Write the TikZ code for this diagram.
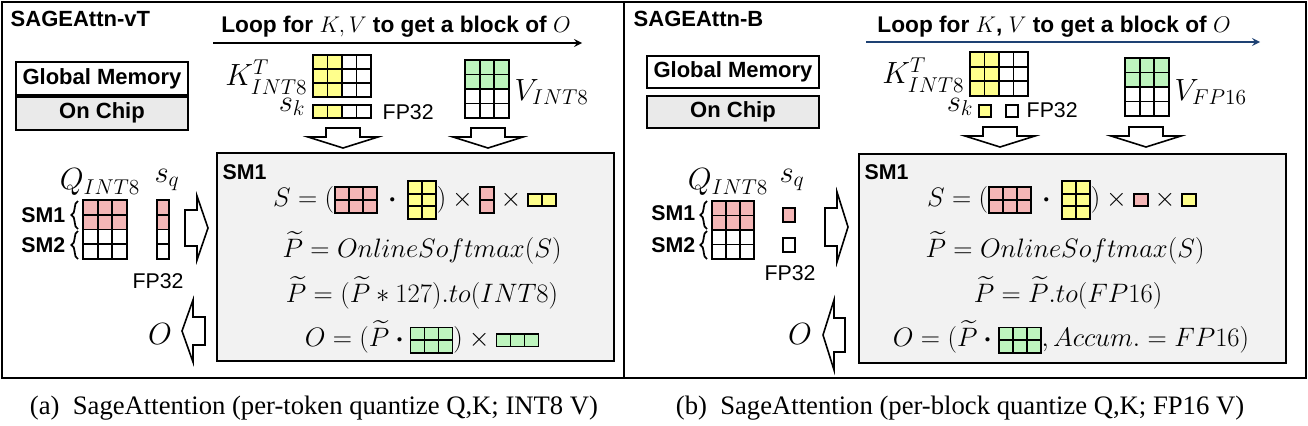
\RequirePackage{fix-cm}
\documentclass[tikz,border=0pt]{standalone}
\usepackage{amsmath}
\usepackage{fontspec}
\setmainfont{Liberation Sans}
\newfontfamily\capfont{Liberation Serif}
\usetikzlibrary{decorations.pathreplacing}
\definecolor{pk}{RGB}{244,182,182}
\definecolor{yl}{RGB}{255,255,140}
\definecolor{gr}{RGB}{190,245,190}
\definecolor{bx}{RGB}{242,242,242}
\definecolor{oc}{RGB}{234,234,234}
\definecolor{nv}{RGB}{30,65,115}
% inline matrix: cols rows color
\newcommand\imat[3]{\tikz[baseline={([yshift=-0.25em]current bounding box.center)}]{%
 \fill[#3] (0pt,0pt) rectangle ({#1*10.5pt},{#2*9.5pt});
 \foreach \i in {0,...,#1}{\draw[line width=1.3pt,line cap=rect] ({\i*10.5pt},0pt) -- ({\i*10.5pt},{#2*9.5pt});}
 \foreach \j in {0,...,#2}{\draw[line width=1.3pt,line cap=rect] (0pt,{\j*9.5pt}) -- ({#1*10.5pt},{\j*9.5pt});}}}
% grid in px: x y cols rows w h
\newcommand\pgrid[6]{%
 \foreach \i in {0,...,#3}{\draw[gl] ({#1+\i*#5},#2) -- ({#1+\i*#5},{#2+#4*#6});}
 \foreach \j in {0,...,#4}{\draw[gl] (#1,{#2+\j*#6}) -- ({#1+#3*#5},{#2+\j*#6});}}
\tikzset{
 gl/.style={line width=1.4pt,line cap=rect},
 frame/.style={line width=1.5pt},
 title/.style={font=\fontsize{16.5}{18}\selectfont\bfseries,anchor=west},
 loop/.style={font=\fontsize{17}{19}\selectfont\bfseries},
 lbl/.style={font=\fontsize{16}{18}\selectfont\bfseries},
 fp/.style={font=\fontsize{16}{18}\selectfont},
 ml/.style={font=\fontsize{23}{26}\selectfont},
 eq/.style={font=\fontsize{20}{24}\selectfont},
 mem/.style={draw,line width=1.5pt,minimum width=129pt,minimum height=24.5pt,font=\fontsize{16.5}{18}\selectfont\bfseries,inner sep=0pt},
 barrow/.style={draw,line width=1.2pt,fill=white},
 captxt/.style={font=\capfont\fontsize{20}{24}\selectfont},
 brc/.style={decorate,decoration={brace,amplitude=5pt},line width=1.3pt},
}
\newcommand\dnarrow[3]{% name cx ytop
 \draw[barrow] ({#2-17},#3) -- ({#2+17},#3) -- ({#2+17},{#3+9}) -- ({#2+35},{#3+9}) -- (#2,{#3+20}) -- ({#2-35},{#3+9}) -- ({#2-17},{#3+9}) -- cycle;
 \coordinate (#1) at (#2,{#3+20});}
\begin{document}
\begin{tikzpicture}[x=0.75pt,y=-0.75pt]
\useasboundingbox (0,0) rectangle (1308,425);
\draw[frame] (2,2) rectangle (1306,378);
\draw[frame] (624,2) -- (624,378);

%%%%% LEFT PANEL
\node[title] (ta) at (6,19) {SAGEAttn-vT};
\node[loop] (la) at (396,27) {Loop for $K,V$ to get a block of $O$};
\coordinate (la1) at (213,43); \coordinate (la2) at (582,43);
\draw[line width=1.6pt,-stealth] (la1) -- (la2);
\node[mem] (gma) at (102,78.5) {Global Memory};
\node[mem,fill=oc,anchor=north] (oca) at (gma.south) {On Chip};
% K^T
\fill[yl] (313,55) rectangle (342,97);
\pgrid{313}{55}{4}{3}{14.5}{14}
\node[ml,anchor=east] (kta) at (312,77) {$K^T_{INT8}$};
\fill[yl] (313,105) rectangle (342,118);
\pgrid{313}{105}{4}{1}{14.5}{13}
\node[ml,anchor=east] (ska) at (310,107) {$s_k$};
\node[fp,anchor=west] (fpka) at (378,112) {FP32};
% V
\fill[gr] (465,60) rectangle (509,89);
\pgrid{465}{60}{3}{4}{14.67}{14.5}
\node[ml,anchor=west] (va) at (510,92) {$V_{INT8}$};
\dnarrow{da1}{343}{128}
\dnarrow{da2}{488}{128}
% SM1 box
\node[draw,line width=1.5pt,fill=bx,minimum width=297.75pt,minimum height=156pt,anchor=north west,inner sep=0pt] (sma) at (216,152) {};
\node[lbl,anchor=west] (sma1) at (218,172) {SM1};
\node[eq] (ea1) at (415,200) {$S=(\imat{3}{2}{pk}\,\boldsymbol{\cdot}\,\imat{2}{3}{yl})\times\imat{1}{2}{pk}\times\imat{2}{1}{yl}$};
\node[eq] (ea2) at (422,248) {$\widetilde{P}=OnlineSoftmax(S)$};
\node[eq] (ea3) at (422,293) {$\widetilde{P}=(\widetilde{P}*127).to(INT8)$};
\node[eq] (ea4) at (422,337) {$O=(\widetilde{P}\boldsymbol{\cdot}\imat{3}{2}{gr})\times\imat{3}{1}{gr}$};
% Q
\fill[pk] (83,200) rectangle (127,229.5);
\pgrid{83}{200}{3}{4}{14.67}{14.75}
\node[ml] (qa) at (100,182) {$Q_{INT8}$};
\fill[pk] (157,200) rectangle (169,229.5);
\pgrid{157}{200}{1}{4}{12}{14.75}
\node[ml] (sqa) at (167,180) {$s_q$};
\node[fp] (fpqa) at (158,281) {FP32};
\draw[brc] (78,229) -- (78,201);
\draw[brc] (78,259) -- (78,231);
\node[lbl,anchor=east] (s1a) at (70,215) {SM1};
\node[lbl,anchor=east] (s2a) at (70,245) {SM2};
\draw[barrow] (185,210) -- (197,210) -- (197,196) -- (208,228) -- (197,260) -- (197,246) -- (185,246) -- cycle;
\draw[barrow] (205,317) -- (193,317) -- (193,300) -- (182,331) -- (193,362) -- (193,345) -- (205,345) -- cycle;
\node[ml] (oa) at (160,334) {$O$};
\node[captxt] (capa) at (314,408) {(a)\ \ SageAttention (per-token quantize Q,K; INT8 V)};

%%%%% RIGHT PANEL
\node[title] (tb) at (629,19) {SAGEAttn-B};
\node[loop] (lb) at (1054,27) {Loop for $K$, $V$ to get a block of $O$};
\coordinate (lb1) at (866,42); \coordinate (lb2) at (1260,42);
\draw[line width=1.6pt,-stealth,nv] (lb1) -- (lb2);
\node[mem] (gmb) at (733,72) {Global Memory};
\node[mem,fill=oc] (ocb) at (733,112) {On Chip};
% K^T
\fill[yl] (970,52) rectangle (999,96);
\pgrid{970}{52}{4}{3}{14.5}{14.67}
\node[ml,anchor=east] (ktb) at (969,75) {$K^T_{INT8}$};
\fill[yl] (979,105) rectangle (991,117);
\draw[gl] (979,105) rectangle (991,117);
\draw[gl] (1006,105) rectangle (1018,117);
\node[ml,anchor=east] (skb) at (978,107) {$s_k$};
\node[fp,anchor=west] (fpkb) at (1022,110) {FP32};
% V
\fill[gr] (1125,58) rectangle (1169,87);
\pgrid{1125}{58}{3}{4}{14.67}{14.5}
\node[ml,anchor=west] (vb) at (1170,92) {$V_{FP16}$};
\dnarrow{db1}{1000}{127}
\dnarrow{db2}{1146}{127}
\node[draw,line width=1.5pt,fill=bx,minimum width=320pt,minimum height=156.75pt,anchor=north west,inner sep=0pt] (smb) at (858,153) {};
\node[lbl,anchor=west] (smb1) at (860,172) {SM1};
\node[eq] (eb1) at (1062,200) {$S=(\imat{3}{2}{pk}\,\boldsymbol{\cdot}\,\imat{2}{3}{yl})\times\imat{1}{1}{pk}\times\imat{1}{1}{yl}$};
\node[eq] (eb2) at (1065,248) {$\widetilde{P}=OnlineSoftmax(S)$};
\node[eq] (eb3) at (1068,293) {$\widetilde{P}=\widetilde{P}.to(FP16)$};
\node[eq] (eb4) at (1071,337) {$O=(\widetilde{P}\boldsymbol{\cdot}\imat{3}{2}{gr},Accum.=FP16)$};
% Q
\fill[pk] (712,201) rectangle (754,229.5);
\pgrid{712}{201}{3}{4}{14}{14.5}
\node[ml] (qb) at (728,182) {$Q_{INT8}$};
\fill[pk] (783,208) rectangle (795,222);
\draw[gl] (783,208) rectangle (795,222);
\draw[gl] (783,238) rectangle (795,252);
\node[ml] (sqb) at (792,180) {$s_q$};
\node[fp] (fpqb) at (790,273) {FP32};
\draw[brc] (707,229) -- (707,201);
\draw[brc] (707,259) -- (707,231);
\node[lbl,anchor=east] (s1b) at (700,213) {SM1};
\node[lbl,anchor=east] (s2b) at (700,245) {SM2};
\draw[barrow] (825,208) -- (837,208) -- (837,192) -- (848,227) -- (837,262) -- (837,246) -- (825,246) -- cycle;
\draw[barrow] (845,318) -- (834,318) -- (834,300) -- (823,335) -- (834,370) -- (834,352) -- (845,352) -- cycle;
\node[ml] (ob) at (800,334) {$O$};
\node[captxt] (capb) at (960,408) {(b)\ \ SageAttention (per-block quantize Q,K; FP16 V)};
\end{tikzpicture}
\end{document}
